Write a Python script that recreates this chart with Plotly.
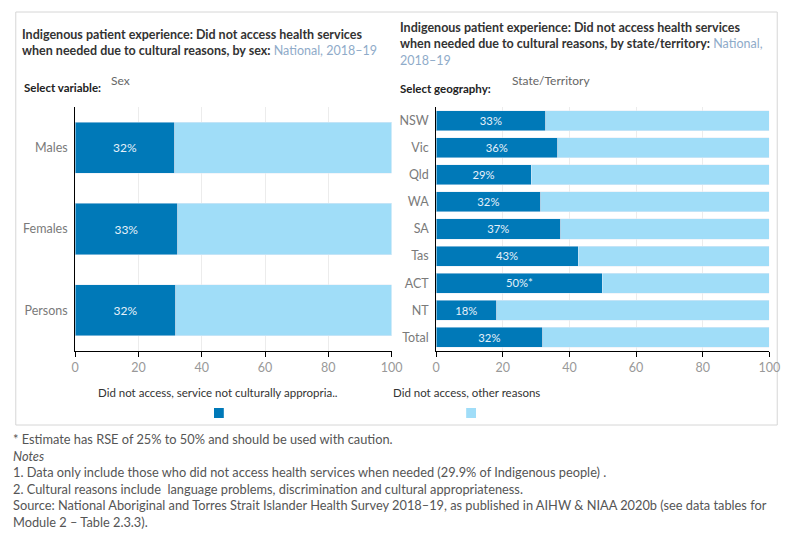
import plotly.graph_objects as go

# ---- data ----
sex_cats = ["Males", "Females", "Persons"]
sex_vals = [31.5, 32.4, 31.8]
sex_labels = ["32%", "33%", "32%"]

state_cats = ["NSW", "Vic", "Qld", "WA", "SA", "Tas", "ACT", "NT", "Total"]
state_vals = [32.9, 36.4, 28.5, 31.4, 37.3, 42.6, 49.9, 18.1, 32.0]
state_labels = ["33%", "36%", "29%", "32%", "37%", "43%", "50%*", "18%", "32%"]

series_names = ["Did not access, service not culturally appropria..", "Did not access, other reasons"]
x_ticks = [0, 20, 40, 60, 80, 100]

DARK = "#0079b8"
LIGHT = "#a0ddf8"
FONT = "Lato"
W, H = 800, 550

def px(x):
    return x / W

def py(y):
    return 1 - y / H

fig = go.Figure()

# left chart
fig.add_trace(go.Bar(y=sex_cats, x=sex_vals, orientation="h", marker_color=DARK,
                     text=sex_labels, textposition="inside", insidetextanchor="middle",
                     textfont=dict(color="#e6f1fa", size=12, family=FONT),
                     name=series_names[0], xaxis="x", yaxis="y", showlegend=False, hoverinfo="skip"))
fig.add_trace(go.Bar(y=sex_cats, x=[100 - v for v in sex_vals], orientation="h", marker_color=LIGHT,
                     name=series_names[1], xaxis="x", yaxis="y", showlegend=False, hoverinfo="skip"))
# right chart
fig.add_trace(go.Bar(y=state_cats, x=state_vals, orientation="h", marker_color=DARK,
                     text=state_labels, textposition="inside", insidetextanchor="middle",
                     textfont=dict(color="#e6f1fa", size=12, family=FONT),
                     name=series_names[0], xaxis="x2", yaxis="y2", showlegend=False, hoverinfo="skip"))
fig.add_trace(go.Bar(y=state_cats, x=[100 - v for v in state_vals], orientation="h", marker_color=LIGHT,
                     name=series_names[1], xaxis="x2", yaxis="y2", showlegend=False, hoverinfo="skip"))

xcommon = dict(range=[0, 100], tickvals=x_ticks, ticks="outside", ticklen=5, tickcolor="#000",
               showline=True, linecolor="#000", linewidth=1, showgrid=True, gridcolor="#ececec",
               zeroline=False, tickfont=dict(color="#999", size=12.5, family=FONT), fixedrange=True)
ycommon = dict(showline=True, linecolor="#000", linewidth=1, showgrid=False, ticks="",
               tickfont=dict(color="#7a7a7a", size=12.5, family=FONT), autorange="reversed",
               ticklabelstandoff=4, fixedrange=True)

fig.update_layout(
    width=W, height=H, barmode="stack",
    margin=dict(l=0, r=0, t=0, b=0),
    paper_bgcolor="white", plot_bgcolor="white",
    font=dict(family=FONT),
    xaxis=dict(domain=[px(72.5), px(395)], anchor="y", **xcommon),
    yaxis=dict(domain=[py(351), py(107)], anchor="x", categoryorder="array", categoryarray=sex_cats, **ycommon),
    xaxis2=dict(domain=[px(440.5), px(780)], anchor="y2", **xcommon),
    yaxis2=dict(domain=[py(351), py(107)], anchor="x2", categoryorder="array", categoryarray=state_cats, **ycommon),
    bargap=0.37,
)
fig.data[2].width = 0.74
fig.data[3].width = 0.74

shapes = [dict(type="rect", xref="paper", yref="paper", x0=px(12), x1=px(788), y0=py(425), y1=py(12),
               line=dict(color="#d6d6d6", width=1), fillcolor="rgba(0,0,0,0)", layer="below")]
# legend squares
for cx, col in [(219, DARK), (476, LIGHT)]:
    shapes.append(dict(type="rect", xref="paper", yref="paper", x0=px(cx - 5), x1=px(cx + 5),
                       y0=py(418), y1=py(408), line=dict(width=0), fillcolor=col))
fig.update_layout(shapes=shapes)

ann = []
TITLE_C = "#333333"
SUB_C = "#8fabc9"
ann.append(dict(x=px(16), y=py(25), xref="paper", yref="paper", xanchor="left", yanchor="top", align="left",
                showarrow=False, font=dict(size=12.5, color=TITLE_C, family=FONT),
                text="<b>Indigenous patient experience: Did not access health services</b><br>"
                     "<b>when needed due to cultural reasons, by sex:</b> "
                     f"<span style='color:{SUB_C}'>National, 2018–19</span>"))
ann.append(dict(x=px(402), y=py(18), xref="paper", yref="paper", xanchor="left", yanchor="top", align="left",
                showarrow=False, font=dict(size=12.5, color=TITLE_C, family=FONT),
                text="<b>Indigenous patient experience: Did not access health services</b><br>"
                     "<b>when needed due to cultural reasons, by state/territory:</b> "
                     f"<span style='color:{SUB_C}'>National,</span><br>"
                     f"<span style='color:{SUB_C}'>2018–19</span>"))
ann.append(dict(x=px(18), y=py(87), xref="paper", yref="paper", xanchor="left", yanchor="middle",
                showarrow=False, font=dict(size=11.5, color="#222", family=FONT), text="<b>Select variable:</b>"))
ann.append(dict(x=px(107), y=py(80), xref="paper", yref="paper", xanchor="left", yanchor="middle",
                showarrow=False, font=dict(size=12, color="#666", family=FONT), text="Sex"))
ann.append(dict(x=px(402), y=py(88), xref="paper", yref="paper", xanchor="left", yanchor="middle",
                showarrow=False, font=dict(size=11.5, color="#222", family=FONT), text="<b>Select geography:</b>"))
ann.append(dict(x=px(516), y=py(81), xref="paper", yref="paper", xanchor="left", yanchor="middle",
                showarrow=False, font=dict(size=12, color="#666", family=FONT), text="State/Territory"))
# legend labels
for lx, name in [(94, series_names[0]), (394, series_names[1])]:
    ann.append(dict(x=px(lx), y=py(392), xref="paper", yref="paper", xanchor="left", yanchor="middle",
                    showarrow=False, font=dict(size=11.5, color="#333", family=FONT), text=name))

foot = [
    "* Estimate has RSE of 25% to 50% and should be used with caution.",
    "<i>Notes</i>",
    "1. Data only include those who did not access health services when needed (29.9% of Indigenous people) .",
    "2. Cultural reasons include  language problems, discrimination and cultural appropriateness.",
    "Source: National Aboriginal and Torres Strait Islander Health Survey 2018–19, as published in AIHW &amp; NIAA 2020b (see data tables for",
    "Module 2 – Table 2.3.3).",
]
for i, t in enumerate(foot):
    ann.append(dict(x=px(7), y=py(439 + i * 16.6), xref="paper", yref="paper", xanchor="left", yanchor="middle",
                    showarrow=False, font=dict(size=12.8, color="#555", family=FONT), text=t))
fig.update_layout(annotations=ann)

fig.write_html("out.html")
